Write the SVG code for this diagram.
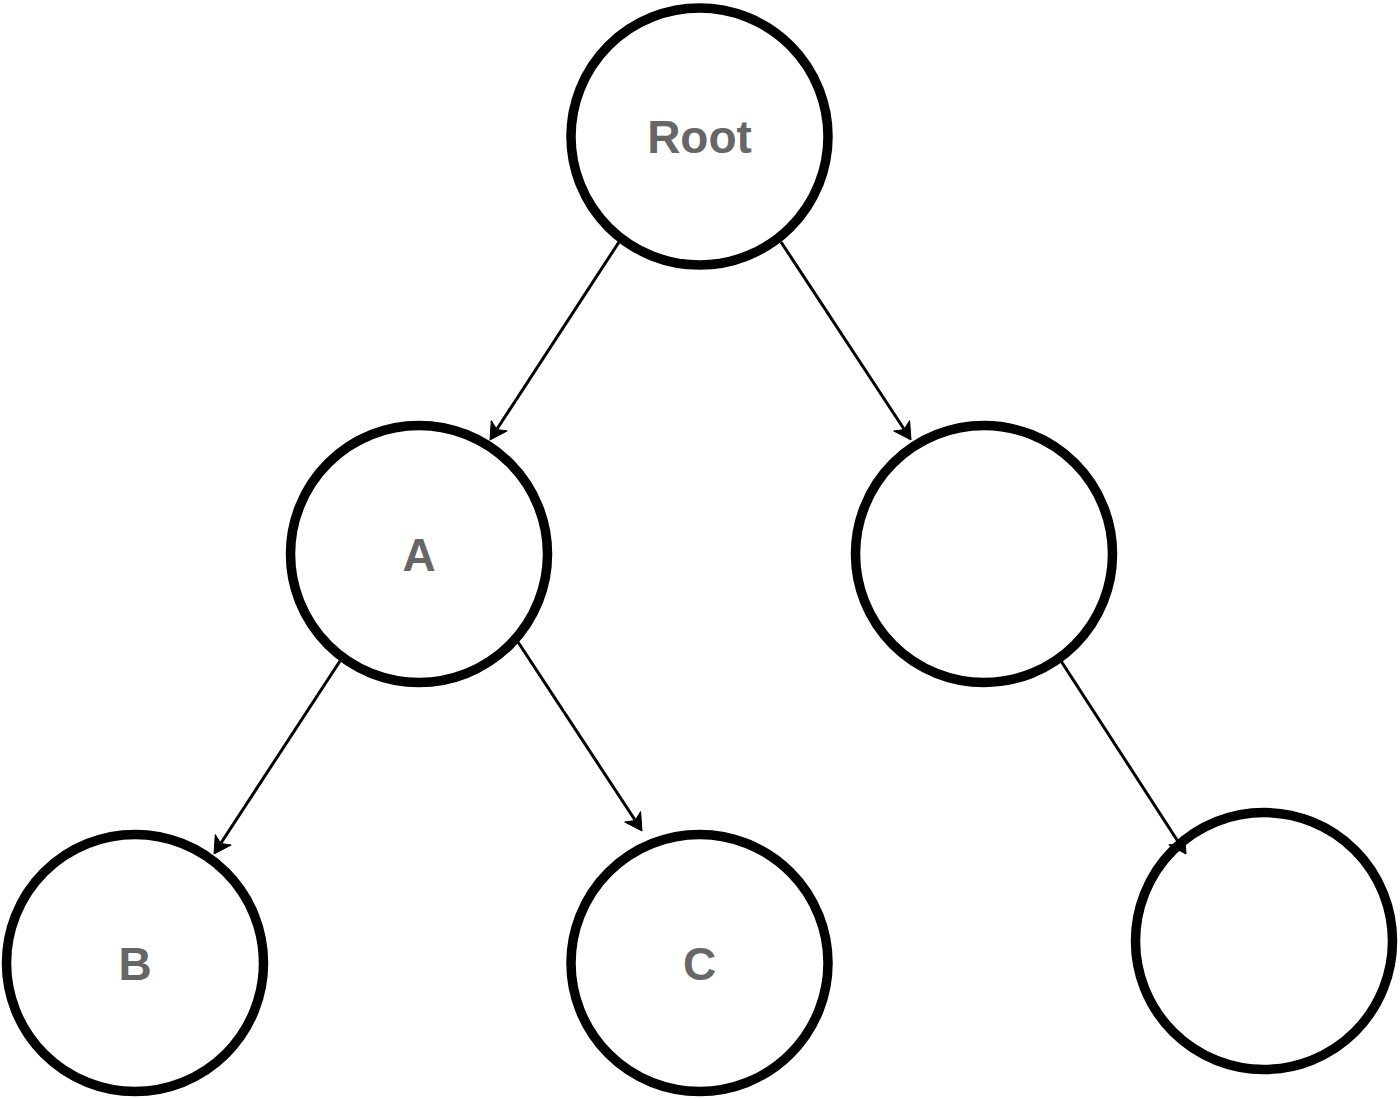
<svg xmlns="http://www.w3.org/2000/svg" width="1400" height="1098" viewBox="0 0 1400 1098">
<style>
.node{fill:#ffffff;stroke:#000000;stroke-width:9.5}
.lbl{font-family:"Liberation Sans",Arial,sans-serif;font-weight:bold;font-size:46px;fill:#666666;text-anchor:middle}
.edge{stroke:#000000;stroke-width:3;fill:none}
.head{fill:#000000;stroke:#000000;stroke-width:1}
</style>
<rect width="1400" height="1098" fill="#ffffff"/>
<g id="root"><circle class="node" cx="699.5" cy="136.5" r="128.5"/><text class="lbl" x="699.5" y="153">Root</text></g>
<g id="a"><circle class="node" cx="419" cy="554" r="128.5"/><text class="lbl" x="419" y="571">A</text></g>
<g id="r"><circle class="node" cx="984" cy="554" r="128.5"/></g>
<g id="b"><circle class="node" cx="135" cy="963" r="128.5"/><text class="lbl" x="135" y="980">B</text></g>
<g id="c"><circle class="node" cx="699.5" cy="963" r="128.5"/><text class="lbl" x="699.5" y="980">C</text></g>
<g id="rb"><circle class="node" cx="1264" cy="941" r="128.5"/></g>
<g id="connectors">
<line class="edge" x1="619" y1="242" x2="497" y2="429"/>
<polygon class="head" points="490,440 507.2,430.9 496.8,429.5 491.3,420.6"/>
<line class="edge" x1="781" y1="242" x2="904" y2="429"/>
<polygon class="head" points="911,440 893.7,431 904.1,429.6 909.6,420.6"/>
<line class="edge" x1="340" y1="661" x2="221" y2="843"/>
<polygon class="head" points="214,854 231.2,845 220.8,843.5 215.3,834.6"/>
<line class="edge" x1="518" y1="642" x2="635" y2="820"/>
<polygon class="head" points="642,831 624.7,822 635.1,820.6 640.6,811.6"/>
<line class="edge" x1="1061" y1="661" x2="1179" y2="843"/>
<polygon class="head" points="1186,854 1168.8,844.9 1179.2,843.5 1184.7,834.6"/>
</g>
</svg>
